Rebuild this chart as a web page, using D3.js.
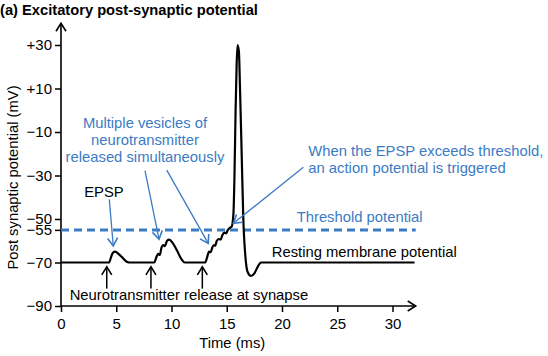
<!DOCTYPE html>
<html>
<head>
<meta charset="utf-8">
<script src="https://cdn.jsdelivr.net/npm/d3@7"></script>
<style>
  body { margin: 0; background: #fff; }
  svg { display: block; font-family: Arial, "Liberation Sans", sans-serif; }
</style>
</head>
<body>
<div id="chart"></div>
<script>
// membrane potential trace (ms, mV)
const time = [0, 4.35, 4.5, 4.7, 4.9, 5.2, 5.6, 6.0, 6.2,
  8.45, 8.6, 8.8, 8.95, 9.1, 9.25, 9.4, 9.6, 9.8, 10.1, 10.5, 10.9, 11.2,
  13.05, 13.2, 13.4, 13.55, 13.7, 13.85, 13.95, 14.1, 14.3, 14.45, 14.6, 14.8, 14.95, 15.1, 15.3, 15.45,
  15.6, 15.7, 15.8, 15.9, 15.98, 16.1, 16.2, 16.35, 16.5, 16.7, 16.9, 17.2, 17.5, 17.8, 18.1, 32];
const voltage = [-70, -70, -68, -65.5, -65, -66, -68, -69.8, -70,
  -70, -68, -66, -66.5, -63, -62, -62.5, -60, -59.5, -61, -64.5, -68.5, -70,
  -70, -68, -65, -65.3, -63, -62, -62.4, -60, -59.2, -59.5, -57.5, -56.3, -56.6, -55, -54, -53.5,
  -48, -30, 0, 22, 30, 27, 10, -20, -50, -68, -74.5, -76.2, -75, -72, -70, -70];

const xTicks = [0, 5, 10, 15, 20, 25, 30];
const yTicks = [30, 10, -10, -30, -50, -55, -70, -90];
const threshold = -55;
const releaseTimes = [4.14, 8.14, 12.79];

const width = 548, height = 356;
const blue = '#3b7bc4';
const fs = 14.8;

const x = d3.scaleLinear().domain([0, 30]).range([61, 392.5]);
const y = d3.scaleLinear().domain([-90, 30]).range([306, 45]);

const svg = d3.select('#chart').append('svg')
  .attr('width', width)
  .attr('height', height);

// arrow heads
const defs = svg.append('defs');
[['arrBlack', '#000'], ['arrBlue', blue]].forEach(([id, c]) => {
  defs.append('marker')
    .attr('id', id)
    .attr('viewBox', '-10 -6 12 12')
    .attr('refX', 0).attr('refY', 0)
    .attr('markerWidth', 12).attr('markerHeight', 12)
    .attr('markerUnits', 'userSpaceOnUse')
    .attr('orient', 'auto')
    .append('path')
    .attr('d', 'M-8,-5L0,0L-8,5')
    .attr('fill', 'none')
    .attr('stroke', c)
    .attr('stroke-width', 1.6);
});

svg.append('text')
  .attr('x', 0).attr('y', 15)
  .attr('font-weight', 'bold')
  .attr('font-size', 14.7)
  .text('(a) Excitatory post-synaptic potential');

// axes
const fmtY = d => d > 0 ? '+' + d : (d < 0 ? '\u2212' + Math.abs(d) : '0');

const gy = svg.append('g')
  .attr('transform', `translate(${x(0)},0)`)
  .call(d3.axisLeft(y).tickValues(yTicks).tickFormat(fmtY).tickSize(6).tickPadding(3));
gy.select('.domain').remove();

const gx = svg.append('g')
  .attr('transform', `translate(0,${y(-90)})`)
  .call(d3.axisBottom(x).tickValues(xTicks).tickSize(6).tickPadding(6));
gx.select('.domain').remove();

svg.selectAll('.tick text').attr('font-size', 15).attr('font-family', 'Arial, "Liberation Sans", sans-serif').attr('fill', '#000');
svg.selectAll('.tick line').attr('stroke', '#000').attr('stroke-width', 1.5);

svg.append('line')
  .attr('x1', x(0)).attr('y1', y(-90))
  .attr('x2', x(0)).attr('y2', y(40))
  .attr('stroke', '#000').attr('stroke-width', 1.6)
  .attr('marker-end', 'url(#arrBlack)');
svg.append('line')
  .attr('x1', x(0)).attr('y1', y(-90))
  .attr('x2', x(32.1)).attr('y2', y(-90))
  .attr('stroke', '#000').attr('stroke-width', 1.6)
  .attr('marker-end', 'url(#arrBlack)');

svg.append('text')
  .attr('transform', `translate(18,${(y(30) + y(-90)) / 2 + 2}) rotate(-90)`)
  .attr('text-anchor', 'middle')
  .attr('font-size', fs)
  .text('Post synaptic potential (mV)');

svg.append('text')
  .attr('x', x(15.5)).attr('y', 348)
  .attr('text-anchor', 'middle')
  .attr('font-size', fs)
  .text('Time (ms)');

// threshold
svg.append('line')
  .attr('x1', x(0)).attr('x2', x(32.1))
  .attr('y1', y(threshold)).attr('y2', y(threshold))
  .attr('stroke', blue).attr('stroke-width', 3)
  .attr('stroke-dasharray', '8,5');

// trace
const trace = time.map((t, i) => [t, voltage[i]]);
svg.append('path')
  .datum(trace)
  .attr('fill', 'none')
  .attr('stroke', '#000')
  .attr('stroke-width', 2.2)
  .attr('stroke-linejoin', 'round')
  .attr('d', d3.line().x(d => x(d[0])).y(d => y(d[1])).curve(d3.curveMonotoneX));

// release arrows
svg.selectAll('line.release')
  .data(releaseTimes)
  .join('line')
  .attr('class', 'release')
  .attr('x1', d => x(d)).attr('x2', d => x(d))
  .attr('y1', y(-82)).attr('y2', y(-72))
  .attr('stroke', '#000').attr('stroke-width', 1.5)
  .attr('marker-end', 'url(#arrBlack)');

function label(t, v, lines, opts = {}) {
  const el = svg.append('text')
    .attr('x', x(t)).attr('y', y(v))
    .attr('font-size', opts.size || fs)
    .attr('fill', opts.color || '#000')
    .attr('text-anchor', opts.anchor || 'start');
  lines.forEach((s, i) => {
    el.append('tspan').attr('x', x(t)).attr('dy', i ? (opts.lh || 17) : 0).text(s);
  });
}

function arrow(t1, v1, t2, v2, c) {
  svg.append('line')
    .attr('x1', x(t1)).attr('y1', y(v1))
    .attr('x2', x(t2)).attr('y2', y(v2))
    .attr('stroke', c).attr('stroke-width', 1.3)
    .attr('marker-end', c === blue ? 'url(#arrBlue)' : 'url(#arrBlack)');
}

label(11.58, -87.2, ['Neurotransmitter release at synapse'], { anchor: 'middle' });
label(3.89, -39.9, ['EPSP'], { anchor: 'middle' });
arrow(4.37, -41, 4.73, -62.4, blue);

label(7.6, -8.2, ['Multiple vesicles of', 'neurotransmitter', 'released simultaneously'], { anchor: 'middle', color: blue, lh: 16.8 });
arrow(7.6, -27.8, 8.87, -59.3, blue);
arrow(9.57, -27.5, 13.33, -61.2, blue);

label(22.38, -21, ['When the EPSP exceeds threshold,', 'an action potential is triggered'], { color: blue, lh: 17.3 });
arrow(21.93, -26.2, 15.6, -52, blue);

label(21.33, -51.2, ['Threshold potential'], { color: blue });
label(19.07, -67.3, ['Resting membrane potential']);
</script>
</body>
</html>
